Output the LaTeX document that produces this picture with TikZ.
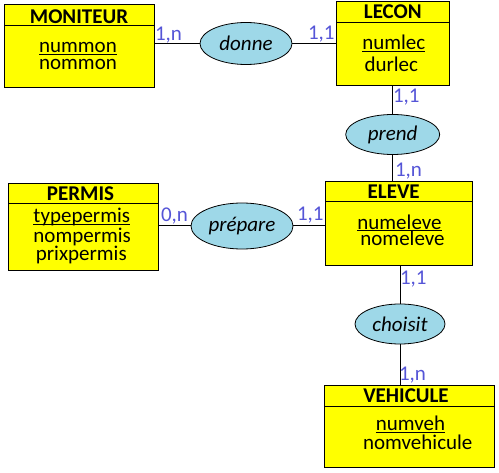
\documentclass[tikz,border=0pt]{standalone}
\usepackage{fontspec}
\setmainfont{Carlito}
\usetikzlibrary{shapes.geometric,calc}
\definecolor{entfill}{RGB}{255,255,0}
\definecolor{relfill}{RGB}{158,216,232}
\definecolor{cardcol}{RGB}{85,85,215}
\newcommand\myul[1]{\leavevmode\setbox0\hbox{#1}\rlap{\rule[-2pt]{\wd0}{0.9pt}}\box0}
\begin{document}
\begin{tikzpicture}[x=1pt,y=-1pt,
  every node/.style={font=\fontsize{21}{24}\selectfont, inner sep=0pt, outer sep=0pt},
  entity/.style={draw=black, line width=1pt, fill=entfill, rectangle},
  rel/.style={draw=black, line width=0.8pt, fill=relfill, ellipse, font=\fontsize{21}{24}\selectfont\itshape},
  ttl/.style={anchor=base, font=\fontsize{21}{24}\selectfont\bfseries},
  attr/.style={anchor=base},
  card/.style={anchor=base west, text=cardcol},
  link/.style={draw=black, line width=1pt},
  hdr/.style={draw=black, line width=1pt}]
\useasboundingbox (0,0) rectangle (499,473);

% entities
\node[entity, minimum width=150, minimum height=83] (mon) at (79,46.5) {};
\node[entity, minimum width=113, minimum height=84] (lec) at (392.5,44) {};
\node[entity, minimum width=147, minimum height=84] (elv) at (398.5,224) {};
\node[entity, minimum width=150, minimum height=87] (per) at (83.3,226.7) {};
\node[entity, minimum width=170, minimum height=82] (veh) at (409.3,426.2) {};

% header lines
\draw[hdr] ($(mon.north west)+(0,21)$) -- ($(mon.north east)+(0,21)$);
\draw[hdr] ($(lec.north west)+(0,21)$) -- ($(lec.north east)+(0,21)$);
\draw[hdr] ($(elv.north west)+(0,20)$) -- ($(elv.north east)+(0,20)$);
\draw[hdr] ($(per.north west)+(0,20.7)$) -- ($(per.north east)+(0,20.7)$);
\draw[hdr] ($(veh.north west)+(0,21)$) -- ($(veh.north east)+(0,21)$);

% titles and attributes
\node[ttl] (tmon) at (79,24) {MONITEUR};
\node[attr] (a1) at (78,53) {\myul{nummon}};
\node[attr] (a2) at (78,70) {nommon};

\node[ttl] (tlec) at (392.8,18.5) {LECON};
\node[attr] (a3) at (393.8,50) {\myul{numlec}};
\node[attr] (a4) at (391.3,72) {durlec};

\node[ttl] (telv) at (393.7,199) {ELEVE};
\node[attr] (a5) at (399.5,229.3) {\myul{numeleve}};
\node[attr] (a6) at (402.5,246) {nomeleve};

\node[ttl] (tper) at (80.5,201) {PERMIS};
\node[attr] (a7) at (81.8,223) {\myul{typepermis}};
\node[attr] (a8) at (82.2,243) {nompermis};
\node[attr] (a9) at (81.3,260.5) {prixpermis};

\node[ttl] (tveh) at (406,402.5) {VEHICULE};
\node[attr] (a10) at (410.5,430.7) {\myul{numveh}};
\node[attr] (a11) at (417.8,450) {nomvehicule};

% relations
\node[rel, minimum width=92, minimum height=42] (don) at (246,43.5) {donne};
\node[rel, minimum width=94, minimum height=40] (pre) at (392.7,134.5) {prend};
\node[rel, minimum width=102, minimum height=46] (prp) at (242,226) {prépare};
\node[rel, minimum width=90, minimum height=40] (cho) at (400,324) {choisit};

% links
\draw[link] (don.west) -- (don.west -| mon.east);
\draw[link] (don.east) -- (don.east -| lec.west);
\draw[link] (pre.north) -- (pre.north |- lec.south);
\draw[link] (pre.south) -- (pre.south |- elv.north);
\draw[link] (prp.west) -- (prp.west -| per.east);
\draw[link] (prp.east) -- (prp.east -| elv.west);
\draw[link] (cho.north) -- (cho.north |- elv.south);
\draw[link] (cho.south) -- (cho.south |- veh.north);

% cardinalities
\node[card] (c1) at (155,41) {1,n};
\node[card] (c2) at (308,40) {1,1};
\node[card] (c3) at (393,103) {1,1};
\node[card] (c4) at (395,177) {1,n};
\node[card] (c5) at (161,222) {0,n};
\node[card] (c6) at (297,220.5) {1,1};
\node[card] (c7) at (400,285) {1,1};
\node[card] (c8) at (399,380.7) {1,n};
\end{tikzpicture}
\end{document}
